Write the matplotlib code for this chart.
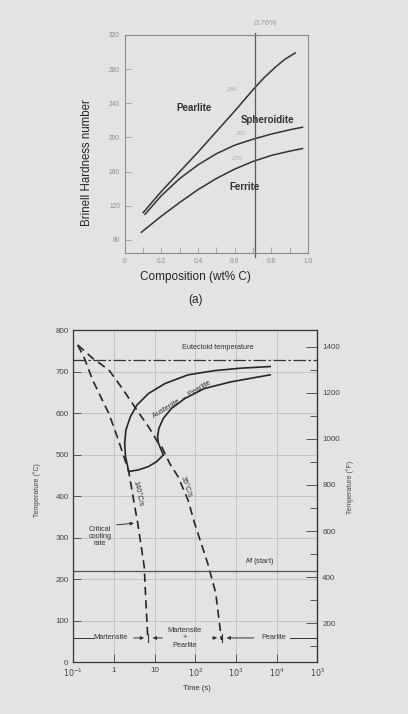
import numpy as np
import matplotlib
matplotlib.use("Agg")
import matplotlib.pyplot as plt

plt.rcParams["font.family"] = ["Liberation Sans", "DejaVu Sans"]

# ======================================================
# Data - (a) hardness vs composition
# ======================================================

pearlite_x = [0.10, 0.20, 0.30, 0.40, 0.50, 0.60, 0.70, 0.76, 0.82, 0.87, 0.93]
pearlite_y = [112, 137, 160, 183, 207, 231, 256, 270, 282, 291, 299]

spher_x = [0.11, 0.20, 0.30, 0.40, 0.50, 0.60, 0.70, 0.80, 0.90, 0.97]
spher_y = [110, 132, 152, 168, 181, 191, 198, 204, 209, 212]

ferrite_x = [0.09, 0.20, 0.30, 0.40, 0.50, 0.60, 0.70, 0.80, 0.90, 0.97]
ferrite_y = [89, 108, 124, 139, 152, 163, 172, 179, 184, 187]

hardness_ticks = [80, 120, 160, 200, 240, 280, 320]
comp_ticks = [0, 0.2, 0.4, 0.6, 0.8, 1.0]
comp_labels = ["0", "0.2", "0.4", "0.6", "0.8", "1.0"]

# ======================================================
# Data - continuous cooling transformation diagram
# ======================================================

start_t = [2.29, 1.91, 1.82, 1.95, 2.51, 3.63, 7.0, 17.8, 66, 288, 1290, 6900]
start_T = [459, 495, 527, 559, 591, 619, 647, 671, 692, 702, 708, 712]

finish_t = [16.2, 12.3, 11.7, 12.6, 16.2, 25.7, 55, 166, 741, 6900]
finish_T = [499, 527, 543, 563, 587, 611, 635, 659, 675, 692]

lower_t = [2.29, 3.98, 7.0, 11.2, 16.2]
lower_T = [459, 463, 471, 483, 499]

fast_t = [0.127, 0.186, 0.295, 0.468, 0.741, 1.19, 1.74, 2.29, 3.02, 3.80,
          4.79, 5.50, 6.03, 6.76]
fast_T = [764, 732, 680, 639, 599, 543, 495, 459, 390, 335, 270, 230, 149, 53]

slow_t = [0.127, 0.295, 0.741, 1.57, 3.63, 7.0, 12.3, 14.8, 23.4, 37.2, 66,
          95.5, 115, 200, 316, 417, 437]
slow_T = [764, 732, 704, 660, 607, 567, 527, 519, 478, 447, 390, 334, 310,
          238, 166, 69, 53]

eutectoid_T = 727
ms_T = 220

time_ticks = [0.1, 1, 10, 1e2, 1e3, 1e4, 1e5]
time_labels = ["$10^{-1}$", "1", "10", "$10^2$", "$10^3$", "$10^4$", "$10^5$"]
temp_c_ticks = [0, 100, 200, 300, 400, 500, 600, 700, 800]
temp_f_ticks = [200, 400, 600, 800, 1000, 1200, 1400]

paper = "#e3e3e1"
ink = "#262626"

fig = plt.figure(figsize=(4.08, 7.14), dpi=100, facecolor=paper)

# ======================================================
# (a) Brinell hardness
# ======================================================

ax = fig.add_axes([0.306, 0.646, 0.449, 0.305])
ax.set_facecolor(paper)

for xs, ys in [(pearlite_x, pearlite_y), (spher_x, spher_y), (ferrite_x, ferrite_y)]:
    ax.plot(xs, ys, color="#333333", lw=1.1)

ax.set_xlim(0, 0.98)
ax.set_ylim(65, 320)
ax.set_xticks(comp_ticks)
ax.set_xticklabels(comp_labels)
ax.set_xticks(np.arange(0.1, 1.0, 0.2), minor=True)
ax.set_yticks(hardness_ticks)
ax.tick_params(axis="both", which="both", direction="in", colors="#999999",
               labelsize=4.8, labelcolor="#8c8c8c", length=4, width=0.6)
for s in ax.spines.values():
    s.set_color("#8a8a8a")
    s.set_linewidth(0.8)

ax.text(0.38, 235, "Pearlite", fontsize=7, fontweight="bold", color="#333333",
        ha="center", va="center")
ax.text(0.78, 221, "Spheroidite", fontsize=7, fontweight="bold", color="#333333",
        ha="center", va="center")
ax.text(0.655, 142, "Ferrite", fontsize=7, fontweight="bold", color="#333333",
        ha="center", va="center")

# pencil notes
ax.plot([0.71, 0.71], [60, 322], color="#5a5a5a", lw=0.9, clip_on=False)
ax.text(0.77, 333, "0.76%", fontsize=6, color="#9a9a9a", ha="center",
        va="center", style="italic", clip_on=False)
ax.text(0.58, 254, "250", fontsize=4.5, color="#b0b0b0", ha="center", style="italic")
ax.text(0.63, 203, "200", fontsize=4.5, color="#b0b0b0", ha="center", style="italic")
ax.text(0.61, 174, "170", fontsize=4.5, color="#b0b0b0", ha="center", style="italic")

fig.text(0.478, 0.612, "Composition (wt% C)", fontsize=8.5, color=ink,
         ha="center", va="center")
fig.text(0.478, 0.580, "(a)", fontsize=8.5, color=ink, ha="center", va="center")
fig.text(0.213, 0.773, "Brinell Hardness number", fontsize=8.3, color=ink,
         ha="center", va="center", rotation=90)

# ======================================================
# (b) Continuous cooling diagram
# ======================================================

bx = fig.add_axes([0.180, 0.0728, 0.598, 0.465])
bx.set_facecolor(paper)
bx.set_xscale("log")
bx.set_xlim(0.1, 1e5)
bx.set_ylim(0, 800)
bx.grid(True, which="major", color="#bdbdbd", lw=0.55)

bx.plot(start_t, start_T, color=ink, lw=1.2)
bx.plot(finish_t, finish_T, color=ink, lw=1.2)
bx.plot(lower_t, lower_T, color=ink, lw=1.2)
bx.plot(fast_t, fast_T, color=ink, lw=1.2, ls=(0, (5, 3)))
bx.plot(slow_t, slow_T, color=ink, lw=1.2, ls=(0, (5, 3)))

bx.axhline(eutectoid_T, color="#333333", lw=0.9, ls=(0, (10, 2, 2, 2)))
bx.axhline(ms_T, color="#555555", lw=0.9)

bx.set_xticks(time_ticks)
bx.set_xticklabels(time_labels)
bx.xaxis.set_minor_locator(matplotlib.ticker.NullLocator())
bx.set_yticks(temp_c_ticks)
bx.tick_params(axis="both", direction="in", length=6, width=0.7,
               colors="#555555", labelsize=5.8, labelcolor="#444444")
for s in bx.spines.values():
    s.set_color("#333333")
    s.set_linewidth(0.9)

f_ax = bx.secondary_yaxis("right", functions=(lambda c: c * 9 / 5 + 32,
                                              lambda f: (f - 32) * 5 / 9))
f_ax.set_yticks(temp_f_ticks)
f_ax.set_yticks(np.arange(100, 1500, 100), minor=True)
f_ax.tick_params(which="major", direction="in", length=8, width=0.7,
                 colors="#555555", labelsize=5.8, labelcolor="#444444")
f_ax.tick_params(which="minor", direction="in", length=5, width=0.7,
                 colors="#555555")
f_ax.spines["right"].set_color("#333333")

# labels inside
bx.text(350, 757, "Eutectoid temperature", fontsize=5.3, color="#333333",
        ha="center", va="center")
bx.text(3900, 243, "$M$ (start)", fontsize=5.3, color="#333333",
        ha="center", va="center")
bx.text(45, 633, "Austenite \u2192 Pearlite", fontsize=5.3, color="#333333",
        ha="center", va="center", rotation=31)
bx.text(3.7, 405, "140\u00b0C/s", fontsize=5.3, color="#333333",
        ha="center", va="center", rotation=-78)
bx.text(58, 422, "35\u00b0C/s", fontsize=5.3, color="#333333",
        ha="center", va="center", rotation=-70)
bx.text(0.45, 302, "Critical\ncooling\nrate", fontsize=5.3, color="#333333",
        ha="center", va="center", linespacing=1.0)
bx.annotate("", xy=(3.6, 335), xytext=(1.0, 330),
            arrowprops=dict(arrowstyle="-|>", color="#333333", lw=0.7,
                            mutation_scale=5))

# bottom region labels
y_b = 58
bx.plot([0.1, 0.32], [y_b, y_b], color="#333333", lw=0.7)
bx.text(0.8, y_b, "Martensite", fontsize=5.3, color="#333333",
        ha="center", va="center")
bx.annotate("", xy=(6.4, y_b), xytext=(2.6, y_b),
            arrowprops=dict(arrowstyle="-|>", color="#333333", lw=0.7,
                            mutation_scale=5))
bx.annotate("", xy=(7.6, y_b), xytext=(18, y_b),
            arrowprops=dict(arrowstyle="-|>", color="#333333", lw=0.7,
                            mutation_scale=5))
bx.plot([7.0, 7.0], [48, 68], color="#333333", lw=0.8)
bx.text(55, y_b, "Martensite\n+\nPearlite", fontsize=5.3, color="#333333",
        ha="center", va="center", linespacing=1.15)
bx.annotate("", xy=(400, y_b), xytext=(220, y_b),
            arrowprops=dict(arrowstyle="-|>", color="#333333", lw=0.7,
                            mutation_scale=5))
bx.annotate("", xy=(500, y_b), xytext=(3200, y_b),
            arrowprops=dict(arrowstyle="-|>", color="#333333", lw=0.7,
                            mutation_scale=5))
bx.plot([450, 450], [48, 68], color="#333333", lw=0.8)
bx.text(8500, y_b, "Pearlite", fontsize=5.3, color="#333333",
        ha="center", va="center")
bx.plot([21000, 1e5], [y_b, y_b], color="#333333", lw=0.7)

fig.text(0.483, 0.036, "Time (s)", fontsize=5.5, color="#333333",
         ha="center", va="center")
fig.text(0.091, 0.314, "Temperature (\u00b0C)", fontsize=5, color="#444444",
         ha="center", va="center", rotation=90)
fig.text(0.858, 0.318, "Temperature (\u00b0F)", fontsize=5, color="#444444",
         ha="center", va="center", rotation=90)

plt.savefig("out.png", dpi=100, facecolor=paper)
